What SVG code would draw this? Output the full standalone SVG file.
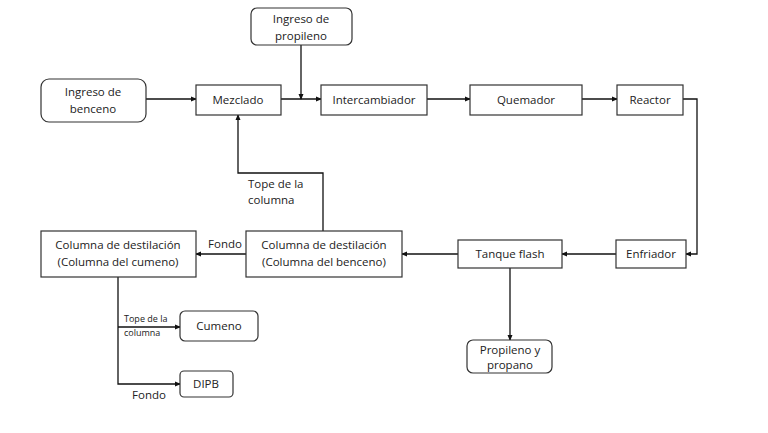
<svg xmlns="http://www.w3.org/2000/svg" width="768" height="433" viewBox="0 0 768 433">
<style>
.b{fill:#fff;stroke:#333;stroke-width:1.2}
text{font-family:"Open Sans","Liberation Sans",sans-serif;font-size:11.5px;fill:#222;text-anchor:middle}
.l{text-anchor:start}
.s{font-size:9px}
.c{fill:none;stroke:#111;stroke-width:1.3}
</style>
<defs><marker id="a" markerWidth="6" markerHeight="6" refX="5" refY="3" orient="auto" markerUnits="userSpaceOnUse"><path d="M0,0.5L6,3L0,5.5z" fill="#111"/></marker></defs>
<rect width="768" height="433" fill="#fff"/>
<g id="connectors">
<path class="c" d="M146,99H196" marker-end="url(#a)"/>
<path class="c" d="M301,45V99" marker-end="url(#a)"/>
<path class="c" d="M281,99H321" marker-end="url(#a)" stroke-width="2"/>
<path class="c" d="M427,99H470" marker-end="url(#a)" stroke-width="2"/>
<path class="c" d="M582,99H617" marker-end="url(#a)" stroke-width="2"/>
<path class="c" d="M683,99H697V254H686" marker-end="url(#a)"/>
<path class="c" d="M616,254H562" marker-end="url(#a)"/>
<path class="c" d="M458,254H402" marker-end="url(#a)" stroke-width="2"/>
<path class="c" d="M246,254H196" marker-end="url(#a)"/>
<path class="c" d="M323,231V173H238V115" marker-end="url(#a)"/>
<path class="c" d="M510,268V340" marker-end="url(#a)" stroke-width="2"/>
<path class="c" d="M118,277V384H180" marker-end="url(#a)"/>
<path class="c" d="M118,327H180" marker-end="url(#a)"/>
<text x="248" y="188" class="l">Tope de la</text>
<text x="248" y="204" class="l">columna</text>
<text x="225" y="248">Fondo</text>
<text x="124" y="322" class="l s">Tope de la</text>
<text x="124" y="336" class="l s">columna</text>
<text x="149" y="399">Fondo</text>
</g>
<g id="benceno"><rect class="b" x="41" y="79" width="105" height="43" rx="8"/><text x="93" y="96">Ingreso de</text><text x="93" y="113">benceno</text></g>
<g id="propileno"><rect class="b" x="251" y="8" width="101" height="37" rx="6"/><text x="301" y="23">Ingreso de</text><text x="301" y="40">propileno</text></g>
<g id="mezclado"><rect class="b" x="196" y="85" width="85" height="30"/><text x="238" y="104">Mezclado</text></g>
<g id="intercambiador"><rect class="b" x="321" y="85" width="106" height="30"/><text x="374" y="104">Intercambiador</text></g>
<g id="quemador"><rect class="b" x="470" y="85" width="112" height="30"/><text x="526" y="104">Quemador</text></g>
<g id="reactor"><rect class="b" x="617" y="85" width="66" height="30"/><text x="650" y="104">Reactor</text></g>
<g id="enfriador"><rect class="b" x="616" y="240" width="70" height="28"/><text x="651" y="258">Enfriador</text></g>
<g id="tanque"><rect class="b" x="458" y="240" width="104" height="28"/><text x="510" y="258">Tanque flash</text></g>
<g id="colbenceno"><rect class="b" x="246" y="231" width="156" height="46"/><text x="324" y="249">Columna de destilación</text><text x="324" y="266">(Columna del benceno)</text></g>
<g id="colcumeno"><rect class="b" x="41" y="231" width="155" height="46"/><text x="118" y="249">Columna de destilación</text><text x="118" y="266">(Columna del cumeno)</text></g>
<g id="propano"><rect class="b" x="467" y="340" width="85" height="33" rx="6"/><text x="510" y="354">Propileno y</text><text x="510" y="369">propano</text></g>
<g id="cumeno"><rect class="b" x="180" y="311" width="78" height="30" rx="5"/><text x="219" y="330">Cumeno</text></g>
<g id="dipb"><rect class="b" x="180" y="371" width="53" height="26" rx="4"/><text x="206" y="388">DIPB</text></g>
</svg>
